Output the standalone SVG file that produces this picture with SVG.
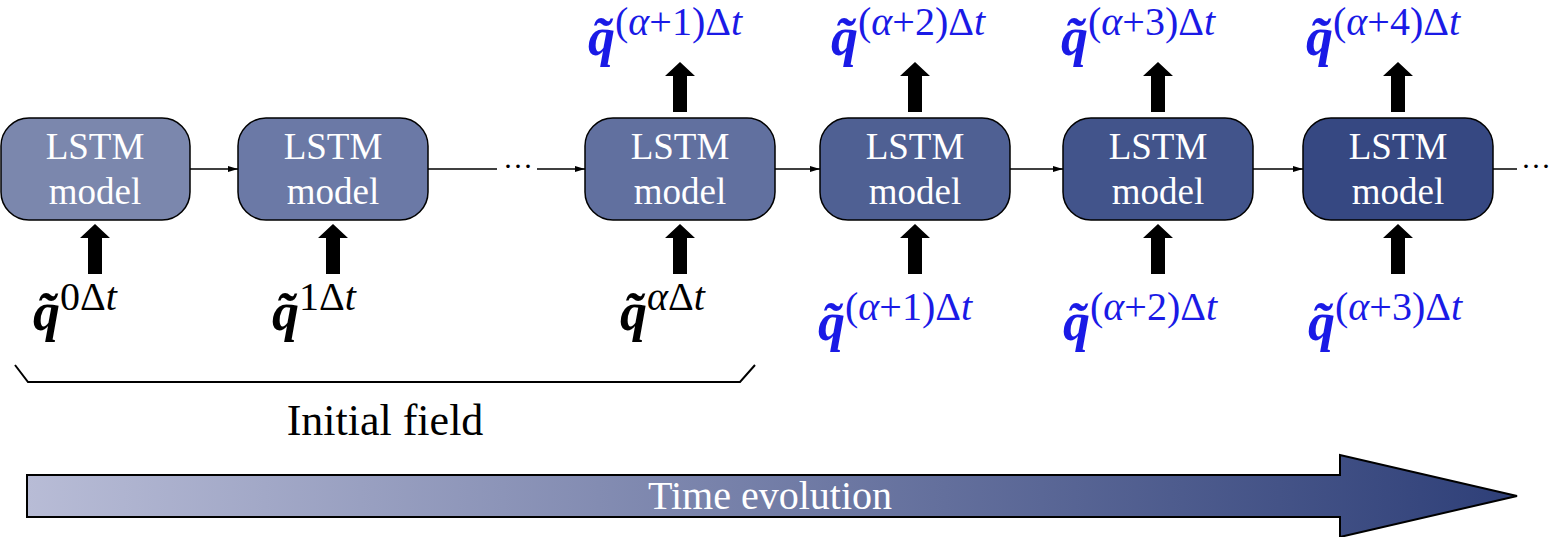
<svg xmlns="http://www.w3.org/2000/svg" width="1549" height="537" viewBox="0 0 1549 537">
<defs>
<marker id="ah" markerWidth="10" markerHeight="8" refX="10" refY="4" orient="auto" markerUnits="userSpaceOnUse"><path d="M0,1 L10,4 L0,7 z" fill="#000"/></marker>
<linearGradient id="tg" x1="0" x2="1" y1="0" y2="0"><stop offset="0" stop-color="#b8bcd6"/><stop offset="1" stop-color="#2e3f78"/></linearGradient>
<path id="fat" d="M-7,0 V-36 H-15 L0,-50 L15,-36 H7 V0 z"/>
</defs>
<style>
.box{stroke:#000;stroke-width:1.5}
.bt{font-family:"Liberation Serif",serif;font-size:37px;fill:#fff;text-anchor:middle}
.q{font-family:"Liberation Serif",serif;font-style:italic;font-weight:bold;font-size:54px}
.s{font-family:"Liberation Serif",serif;font-size:40px;font-style:normal;font-weight:normal}
.i{font-family:"Liberation Serif",serif;font-style:italic}
.blue{fill:#1a1ae6}
.c{stroke:#000;stroke-width:1.5;fill:none}
.dots{font-family:"Liberation Serif",serif;font-size:30px}
</style>
<g id="n1"><rect class="box" x="1" y="118" width="189" height="102" rx="28" fill="#7b87ad"/><text class="bt" x="95" y="159">LSTM</text><text class="bt" x="95" y="204">model</text></g>
<g id="n2"><rect class="box" x="238" y="118" width="190" height="102" rx="28" fill="#6b79a6"/><text class="bt" x="333" y="159">LSTM</text><text class="bt" x="333" y="204">model</text></g>
<g id="n3"><rect class="box" x="585" y="118" width="190" height="102" rx="28" fill="#61709f"/><text class="bt" x="680" y="159">LSTM</text><text class="bt" x="680" y="204">model</text></g>
<g id="n4"><rect class="box" x="820" y="118" width="190" height="102" rx="28" fill="#4f6093"/><text class="bt" x="915" y="159">LSTM</text><text class="bt" x="915" y="204">model</text></g>
<g id="n5"><rect class="box" x="1063" y="118" width="190" height="102" rx="28" fill="#42548b"/><text class="bt" x="1158" y="159">LSTM</text><text class="bt" x="1158" y="204">model</text></g>
<g id="n6"><rect class="box" x="1303" y="118" width="190" height="102" rx="28" fill="#364882"/><text class="bt" x="1398" y="159">LSTM</text><text class="bt" x="1398" y="204">model</text></g>
<g id="connectors">
<line class="c" x1="190" y1="169" x2="238" y2="169" marker-end="url(#ah)"/>
<line class="c" x1="428" y1="169" x2="497" y2="169"/>
<text class="dots" x="503" y="176">···</text>
<line class="c" x1="537" y1="169" x2="585" y2="169" marker-end="url(#ah)"/>
<line class="c" x1="775" y1="169" x2="820" y2="169" marker-end="url(#ah)"/>
<line class="c" x1="1010" y1="169" x2="1063" y2="169" marker-end="url(#ah)"/>
<line class="c" x1="1253" y1="169" x2="1303" y2="169" marker-end="url(#ah)"/>
<line class="c" x1="1493" y1="169" x2="1517" y2="169"/>
<text class="dots" x="1521" y="176">···</text>
<use href="#fat" x="95" y="274"/><use href="#fat" x="333" y="274"/><use href="#fat" x="680" y="274"/>
<use href="#fat" x="915" y="274"/><use href="#fat" x="1158" y="274"/><use href="#fat" x="1398" y="274"/>
<use href="#fat" x="680" y="112"/><use href="#fat" x="915" y="112"/><use href="#fat" x="1158" y="112"/><use href="#fat" x="1398" y="112"/>
</g>
<g id="labels">
<text class="q" x="33" y="330">q̃<tspan class="s" dy="-20">0Δ<tspan class="i">t</tspan></tspan></text>
<text class="q" x="272" y="330">q̃<tspan class="s" dy="-20">1Δ<tspan class="i">t</tspan></tspan></text>
<text class="q" x="620" y="330">q̃<tspan class="s" dy="-20"><tspan class="i">α</tspan>Δ<tspan class="i">t</tspan></tspan></text>
<text class="q blue" x="818" y="340">q̃<tspan class="s" dy="-20">(<tspan class="i">α</tspan>+1)Δ<tspan class="i">t</tspan></tspan></text>
<text class="q blue" x="1063" y="340">q̃<tspan class="s" dy="-20">(<tspan class="i">α</tspan>+2)Δ<tspan class="i">t</tspan></tspan></text>
<text class="q blue" x="1308" y="340">q̃<tspan class="s" dy="-20">(<tspan class="i">α</tspan>+3)Δ<tspan class="i">t</tspan></tspan></text>
<text class="q blue" x="588" y="55">q̃<tspan class="s" dy="-20">(<tspan class="i">α</tspan>+1)Δ<tspan class="i">t</tspan></tspan></text>
<text class="q blue" x="831" y="55">q̃<tspan class="s" dy="-20">(<tspan class="i">α</tspan>+2)Δ<tspan class="i">t</tspan></tspan></text>
<text class="q blue" x="1061" y="55">q̃<tspan class="s" dy="-20">(<tspan class="i">α</tspan>+3)Δ<tspan class="i">t</tspan></tspan></text>
<text class="q blue" x="1306" y="55">q̃<tspan class="s" dy="-20">(<tspan class="i">α</tspan>+4)Δ<tspan class="i">t</tspan></tspan></text>
</g>
<g id="brace">
<path d="M15,365 L28,382 H740 L755,365" fill="none" stroke="#000" stroke-width="2"/>
<text x="385" y="435" font-family="Liberation Serif,serif" font-size="44" text-anchor="middle">Initial field</text>
</g>
<g id="time">
<path d="M27,475 H1340 V455 L1517,496 L1340,537 V517 H27 z" fill="url(#tg)" stroke="#000" stroke-width="2"/>
<text x="770" y="509" font-family="Liberation Serif,serif" font-size="40" fill="#fff" text-anchor="middle">Time evolution</text>
</g>
</svg>
